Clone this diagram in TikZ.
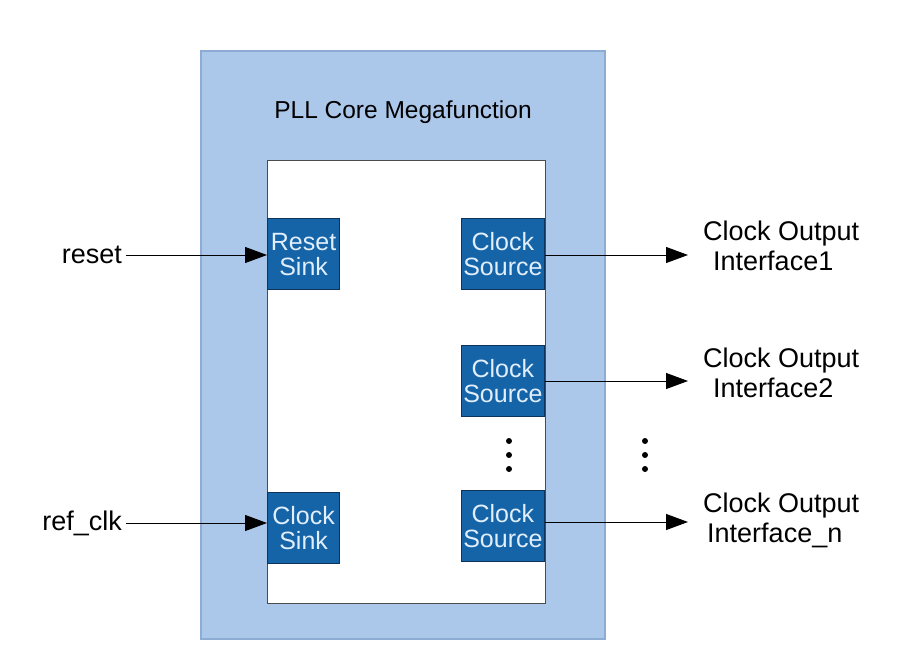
\documentclass[tikz,border=0pt]{standalone}
\usepackage{fontspec}
\setmainfont{Liberation Sans}
\usetikzlibrary{arrows.meta}
\definecolor{outerfill}{RGB}{171,199,234}
\definecolor{outerdraw}{RGB}{140,172,212}
\definecolor{boxfill}{RGB}{22,100,168}
\definecolor{boxdraw}{RGB}{14,52,92}
\definecolor{boxtext}{RGB}{225,238,252}
\begin{document}
\begin{tikzpicture}[x=1pt,y=-1pt,
  blk/.style={draw=boxdraw,line width=1.2pt,fill=boxfill,text=boxtext,minimum width=72pt,minimum height=71pt,inner sep=0pt,align=center,font=\fontsize{25}{29}\selectfont},
  lab/.style={font=\fontsize{27}{32}\selectfont,align=left,inner sep=0pt},
  arr/.style={line width=1pt,-{Triangle[length=22pt,width=16pt]}}]
\useasboundingbox (0,0) rectangle (908,666);
\fill[white] (0,0) rectangle (908,666);
\draw[fill=outerfill,draw=outerdraw,line width=1.5pt] (201,51) rectangle (605,639);
\node[font=\fontsize{24.5}{29}\selectfont] (title) at (403,112) {PLL Core Megafunction};
\draw[fill=white,draw=black!70,line width=1pt] (267,161) rectangle (545,603);
\node[blk,anchor=north west] (rs) at (267,218) {Reset\\[-4pt]Sink};
\node[blk,anchor=north west] (cs) at (267,492) {Clock\\[-4pt]Sink};
\node[blk,anchor=north east,minimum width=83pt] (s1) at (545,218) {Clock\\[-4pt]Source};
\node[blk,anchor=north east,minimum width=83pt] (s2) at (545,345) {Clock\\[-4pt]Source};
\node[blk,anchor=north east,minimum width=83pt] (s3) at (545,490) {Clock\\[-4pt]Source};
\node[lab,anchor=east] (reset) at (122,255) {reset};
\node[lab,anchor=east] (refclk) at (122,523) {ref\_clk};
\draw[arr] (reset.east) ++(4,0) coordinate (r0) -- (rs.west|-r0);
\draw[arr] (refclk.east) ++(4,0) coordinate (c0) -- (cs.west|-c0);
\node[lab,anchor=west] (o1) at (703,246) {Clock Output\\[-2pt]\hspace*{10pt}Interface1};
\node[lab,anchor=west] (o2) at (703,373) {Clock Output\\[-2pt]\hspace*{10pt}Interface2};
\node[lab,anchor=west] (o3) at (703,520) {Clock Output\\[-2pt]\hspace*{4pt}Interface\_n};
\coordinate (e1) at (688,255);
\coordinate (e2) at (688,381);
\coordinate (e3) at (688,522);
\draw[arr] (s1.east|-e1) -- (e1);
\draw[arr] (s2.east|-e2) -- (e2);
\draw[arr] (s3.east|-e3) -- (e3);
\foreach \x in {509,645} \foreach \y in {441,455,469} \fill (\x,\y) circle (3);
\end{tikzpicture}
\end{document}
